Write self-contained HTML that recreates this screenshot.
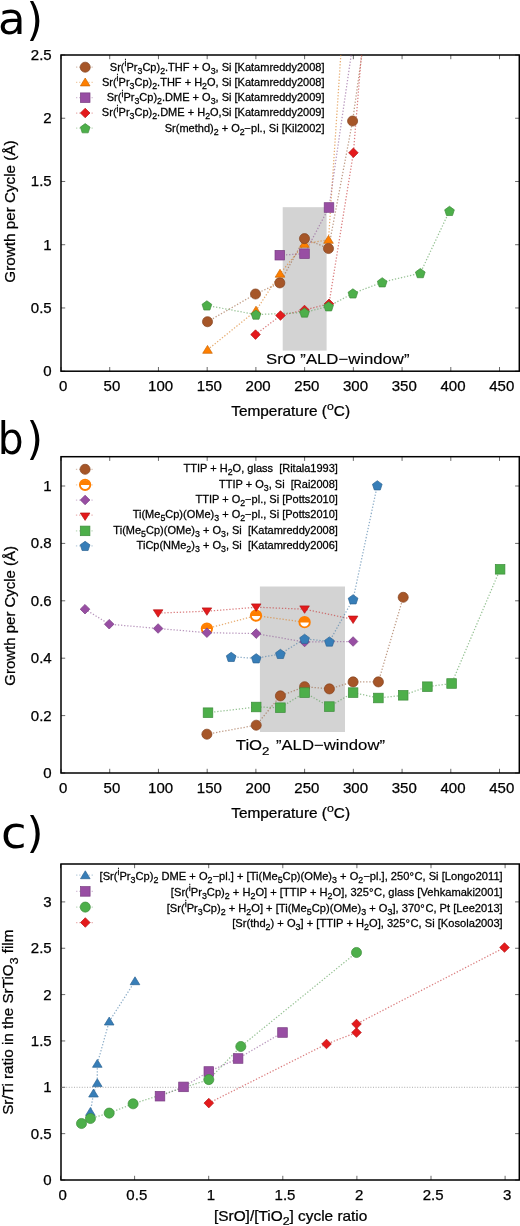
<!DOCTYPE html>
<html lang="en">
<head>
<meta charset="utf-8">
<title>ALD growth per cycle figure</title>
<style>html,body{margin:0;padding:0;background:#fff}svg{display:block}</style>
</head>
<body>
<svg width="520" height="1226" viewBox="0 0 520 1226" font-family='"Liberation Sans", sans-serif' fill="#000">
<rect width="520" height="1226" fill="#fff"/>
<text transform="translate(-1.9 34.35) scale(0.4500 0.4491)" font-family='"DejaVu Sans", sans-serif' font-size="100">a</text>
<text transform="translate(26.62 34.54) scale(0.4227 0.4427)" font-family='"DejaVu Sans", sans-serif' font-size="100">)</text>
<text transform="translate(-2.17 453.96) scale(0.4082 0.4416)" font-family='"DejaVu Sans", sans-serif' font-size="100">b</text>
<text transform="translate(26.62 453.87) scale(0.4227 0.4404)" font-family='"DejaVu Sans", sans-serif' font-size="100">)</text>
<text transform="translate(1.01 848.25) scale(0.4651 0.4491)" font-family='"DejaVu Sans", sans-serif' font-size="100">c</text>
<text transform="translate(26.51 848.22) scale(0.4364 0.4292)" font-family='"DejaVu Sans", sans-serif' font-size="100">)</text>
<rect x="282.7" y="207.2" width="43.9" height="143.4" fill="#d3d3d3"/>
<rect x="61" y="55" width="458.3" height="316.2" fill="none" stroke="#000" stroke-width="1.5"/>
<path d="M61 371.2 v-4.2 M61 55 v4.2" stroke="#000" stroke-width="0.6"/>
<text transform="translate(63.2 391.2) scale(1.09 1)" font-size="13.8" text-anchor="middle" xml:space="preserve" stroke="#000" stroke-width="0.25"><tspan>0</tspan></text>
<path d="M109.72 371.2 v-4.2 M109.72 55 v4.2" stroke="#000" stroke-width="0.6"/>
<text transform="translate(111.92 391.2) scale(1.09 1)" font-size="13.8" text-anchor="middle" xml:space="preserve" stroke="#000" stroke-width="0.25"><tspan>50</tspan></text>
<path d="M158.45 371.2 v-4.2 M158.45 55 v4.2" stroke="#000" stroke-width="0.6"/>
<text transform="translate(160.65 391.2) scale(1.09 1)" font-size="13.8" text-anchor="middle" xml:space="preserve" stroke="#000" stroke-width="0.25"><tspan>100</tspan></text>
<path d="M207.18 371.2 v-4.2 M207.18 55 v4.2" stroke="#000" stroke-width="0.6"/>
<text transform="translate(209.38 391.2) scale(1.09 1)" font-size="13.8" text-anchor="middle" xml:space="preserve" stroke="#000" stroke-width="0.25"><tspan>150</tspan></text>
<path d="M255.9 371.2 v-4.2 M255.9 55 v4.2" stroke="#000" stroke-width="0.6"/>
<text transform="translate(258.1 391.2) scale(1.09 1)" font-size="13.8" text-anchor="middle" xml:space="preserve" stroke="#000" stroke-width="0.25"><tspan>200</tspan></text>
<path d="M304.62 371.2 v-4.2 M304.62 55 v4.2" stroke="#000" stroke-width="0.6"/>
<text transform="translate(306.82 391.2) scale(1.09 1)" font-size="13.8" text-anchor="middle" xml:space="preserve" stroke="#000" stroke-width="0.25"><tspan>250</tspan></text>
<path d="M353.35 371.2 v-4.2 M353.35 55 v4.2" stroke="#000" stroke-width="0.6"/>
<text transform="translate(355.55 391.2) scale(1.09 1)" font-size="13.8" text-anchor="middle" xml:space="preserve" stroke="#000" stroke-width="0.25"><tspan>300</tspan></text>
<path d="M402.07 371.2 v-4.2 M402.07 55 v4.2" stroke="#000" stroke-width="0.6"/>
<text transform="translate(404.27 391.2) scale(1.09 1)" font-size="13.8" text-anchor="middle" xml:space="preserve" stroke="#000" stroke-width="0.25"><tspan>350</tspan></text>
<path d="M450.8 371.2 v-4.2 M450.8 55 v4.2" stroke="#000" stroke-width="0.6"/>
<text transform="translate(453 391.2) scale(1.09 1)" font-size="13.8" text-anchor="middle" xml:space="preserve" stroke="#000" stroke-width="0.25"><tspan>400</tspan></text>
<path d="M499.53 371.2 v-4.2 M499.53 55 v4.2" stroke="#000" stroke-width="0.6"/>
<text transform="translate(501.73 391.2) scale(1.09 1)" font-size="13.8" text-anchor="middle" xml:space="preserve" stroke="#000" stroke-width="0.25"><tspan>450</tspan></text>
<path d="M61 371.2 h4.2 M519.3 371.2 h-4.2" stroke="#000" stroke-width="0.6"/>
<text transform="translate(51.7 376.2) scale(1.09 1)" font-size="13.8" text-anchor="end" xml:space="preserve" stroke="#000" stroke-width="0.25"><tspan>0</tspan></text>
<path d="M61 307.96 h4.2 M519.3 307.96 h-4.2" stroke="#000" stroke-width="0.6"/>
<text transform="translate(51.7 312.96) scale(1.09 1)" font-size="13.8" text-anchor="end" xml:space="preserve" stroke="#000" stroke-width="0.25"><tspan>0.5</tspan></text>
<path d="M61 244.72 h4.2 M519.3 244.72 h-4.2" stroke="#000" stroke-width="0.6"/>
<text transform="translate(51.7 249.72) scale(1.09 1)" font-size="13.8" text-anchor="end" xml:space="preserve" stroke="#000" stroke-width="0.25"><tspan>1</tspan></text>
<path d="M61 181.48 h4.2 M519.3 181.48 h-4.2" stroke="#000" stroke-width="0.6"/>
<text transform="translate(51.7 186.48) scale(1.09 1)" font-size="13.8" text-anchor="end" xml:space="preserve" stroke="#000" stroke-width="0.25"><tspan>1.5</tspan></text>
<path d="M61 118.24 h4.2 M519.3 118.24 h-4.2" stroke="#000" stroke-width="0.6"/>
<text transform="translate(51.7 123.24) scale(1.09 1)" font-size="13.8" text-anchor="end" xml:space="preserve" stroke="#000" stroke-width="0.25"><tspan>2</tspan></text>
<path d="M61 55 h4.2 M519.3 55 h-4.2" stroke="#000" stroke-width="0.6"/>
<text transform="translate(51.7 60) scale(1.09 1)" font-size="13.8" text-anchor="end" xml:space="preserve" stroke="#000" stroke-width="0.25"><tspan>2.5</tspan></text>
<text transform="translate(290.65 415.9) scale(1.1 1)" font-size="14" text-anchor="middle" xml:space="preserve" stroke="#000" stroke-width="0.25"><tspan>Temperature (</tspan><tspan dy="-5.88" font-size="11.2">o</tspan><tspan dy="5.88">C)</tspan></text>
<text transform="translate(14.5 211.5) rotate(-90) scale(1.09 1)" font-size="14" text-anchor="middle" xml:space="preserve" stroke="#000" stroke-width="0.25"><tspan>Growth per Cycle (Å)</tspan></text>
<text transform="translate(266 364.4) scale(1.13 1)" font-size="14.8" text-anchor="start" xml:space="preserve" stroke="#000" stroke-width="0.15"><tspan>SrO ”ALD−window”</tspan></text>
<path d="M207.5 321.7 L255.5 294 L279.8 282.9 L304.5 238.6 L328.5 248.5 L352.6 121 L361.8 55" fill="none" stroke="#9d6545" stroke-width="1.25" stroke-dasharray="1.3 1.8" stroke-opacity="0.66"/>
<path d="M207.5 349.8 L256 310.6 L280 273.7 L304.5 243.8 L328.5 239.8 L340.8 55" fill="none" stroke="#db8229" stroke-width="1.25" stroke-dasharray="1.3 1.8" stroke-opacity="0.66"/>
<path d="M279.8 255.2 L304.5 253.7 L329 207.5 L351.2 55" fill="none" stroke="#935f9b" stroke-width="1.25" stroke-dasharray="1.3 1.8" stroke-opacity="0.66"/>
<path d="M255.5 334.6 L280.5 315.5 L304.5 310 L329 303.8 L353.4 152.8 L361.4 55" fill="none" stroke="#c83b3c" stroke-width="1.25" stroke-dasharray="1.3 1.8" stroke-opacity="0.66"/>
<path d="M206.9 305.4 L256 314.6 L304.5 312.5 L328.6 306.3 L352.9 293.4 L382.2 282.3 L420.3 273.1 L449.5 210.9" fill="none" stroke="#5fa35d" stroke-width="1.25" stroke-dasharray="1.3 1.8" stroke-opacity="0.66"/>
<polygon points="207.5,345.4 212.3,353.3 202.7,353.3" fill="#ff7f00" stroke="#cc6500" stroke-width="0.7" stroke-linejoin="miter"/>
<polygon points="256,306.2 260.8,314.1 251.2,314.1" fill="#ff7f00" stroke="#cc6500" stroke-width="0.7" stroke-linejoin="miter"/>
<polygon points="280,269.3 284.8,277.2 275.2,277.2" fill="#ff7f00" stroke="#cc6500" stroke-width="0.7" stroke-linejoin="miter"/>
<polygon points="304.5,239.4 309.3,247.3 299.7,247.3" fill="#ff7f00" stroke="#cc6500" stroke-width="0.7" stroke-linejoin="miter"/>
<polygon points="328.5,235.4 333.3,243.3 323.7,243.3" fill="#ff7f00" stroke="#cc6500" stroke-width="0.7" stroke-linejoin="miter"/>
<circle cx="207.5" cy="321.7" r="5.05" fill="#a65628" stroke="#844420" stroke-width="0.7" stroke-linejoin="miter"/>
<circle cx="255.5" cy="294" r="5.05" fill="#a65628" stroke="#844420" stroke-width="0.7" stroke-linejoin="miter"/>
<circle cx="279.8" cy="282.9" r="5.05" fill="#a65628" stroke="#844420" stroke-width="0.7" stroke-linejoin="miter"/>
<circle cx="304.5" cy="238.6" r="5.05" fill="#a65628" stroke="#844420" stroke-width="0.7" stroke-linejoin="miter"/>
<circle cx="328.5" cy="248.5" r="5.05" fill="#a65628" stroke="#844420" stroke-width="0.7" stroke-linejoin="miter"/>
<circle cx="352.6" cy="121" r="5.05" fill="#a65628" stroke="#844420" stroke-width="0.7" stroke-linejoin="miter"/>
<rect x="275" y="250.4" width="9.6" height="9.6" fill="#984ea3" stroke="#793e82" stroke-width="0.7" stroke-linejoin="miter"/>
<rect x="299.7" y="248.9" width="9.6" height="9.6" fill="#984ea3" stroke="#793e82" stroke-width="0.7" stroke-linejoin="miter"/>
<rect x="324.2" y="202.7" width="9.6" height="9.6" fill="#984ea3" stroke="#793e82" stroke-width="0.7" stroke-linejoin="miter"/>
<polygon points="255.5,329.8 260.3,334.6 255.5,339.4 250.7,334.6" fill="#e41a1c" stroke="#b61416" stroke-width="0.7" stroke-linejoin="miter"/>
<polygon points="280.5,310.7 285.3,315.5 280.5,320.3 275.7,315.5" fill="#e41a1c" stroke="#b61416" stroke-width="0.7" stroke-linejoin="miter"/>
<polygon points="304.5,305.2 309.3,310 304.5,314.8 299.7,310" fill="#e41a1c" stroke="#b61416" stroke-width="0.7" stroke-linejoin="miter"/>
<polygon points="329,299 333.8,303.8 329,308.6 324.2,303.8" fill="#e41a1c" stroke="#b61416" stroke-width="0.7" stroke-linejoin="miter"/>
<polygon points="353.4,148 358.2,152.8 353.4,157.6 348.6,152.8" fill="#e41a1c" stroke="#b61416" stroke-width="0.7" stroke-linejoin="miter"/>
<polygon points="206.9,300.8 211.75,304.32 209.9,310.03 203.9,310.03 202.05,304.32" fill="#4daf4a" stroke="#3d8c3b" stroke-width="0.7" stroke-linejoin="miter"/>
<polygon points="256,310 260.85,313.52 259,319.23 253,319.23 251.15,313.52" fill="#4daf4a" stroke="#3d8c3b" stroke-width="0.7" stroke-linejoin="miter"/>
<polygon points="304.5,307.9 309.35,311.42 307.5,317.13 301.5,317.13 299.65,311.42" fill="#4daf4a" stroke="#3d8c3b" stroke-width="0.7" stroke-linejoin="miter"/>
<polygon points="328.6,301.7 333.45,305.22 331.6,310.93 325.6,310.93 323.75,305.22" fill="#4daf4a" stroke="#3d8c3b" stroke-width="0.7" stroke-linejoin="miter"/>
<polygon points="352.9,288.8 357.75,292.32 355.9,298.03 349.9,298.03 348.05,292.32" fill="#4daf4a" stroke="#3d8c3b" stroke-width="0.7" stroke-linejoin="miter"/>
<polygon points="382.2,277.7 387.05,281.22 385.2,286.93 379.2,286.93 377.35,281.22" fill="#4daf4a" stroke="#3d8c3b" stroke-width="0.7" stroke-linejoin="miter"/>
<polygon points="420.3,268.5 425.15,272.02 423.3,277.73 417.3,277.73 415.45,272.02" fill="#4daf4a" stroke="#3d8c3b" stroke-width="0.7" stroke-linejoin="miter"/>
<polygon points="449.5,206.3 454.35,209.82 452.5,215.53 446.5,215.53 444.65,209.82" fill="#4daf4a" stroke="#3d8c3b" stroke-width="0.7" stroke-linejoin="miter"/>
<path d="M76 67.2 L94.4 67.2" fill="none" stroke="#9d6545" stroke-width="1.25" stroke-dasharray="1.3 1.8" stroke-opacity="0.4"/>
<circle cx="85.2" cy="67.2" r="5.05" fill="#a65628" stroke="#844420" stroke-width="0.7" stroke-linejoin="miter"/>
<text transform="translate(324.5 70.6) scale(1.07 1)" font-size="10.3" text-anchor="end" xml:space="preserve" stroke="#000" stroke-width="0.25"><tspan>Sr(</tspan><tspan dy="-4.33" font-size="8.24">i</tspan><tspan dy="4.33">Pr</tspan><tspan dy="3.09" font-size="8.24">3</tspan><tspan dy="-3.09">Cp)</tspan><tspan dy="3.09" font-size="8.24">2</tspan><tspan dy="-3.09">.THF + O</tspan><tspan dy="3.09" font-size="8.24">3</tspan><tspan dy="-3.09">, Si [Katamreddy2008]</tspan></text>
<path d="M76 82.4 L94.4 82.4" fill="none" stroke="#db8229" stroke-width="1.25" stroke-dasharray="1.3 1.8" stroke-opacity="0.4"/>
<polygon points="85.2,78 90,85.9 80.4,85.9" fill="#ff7f00" stroke="#cc6500" stroke-width="0.7" stroke-linejoin="miter"/>
<text transform="translate(324.5 85.8) scale(1.07 1)" font-size="10.3" text-anchor="end" xml:space="preserve" stroke="#000" stroke-width="0.25"><tspan>Sr(</tspan><tspan dy="-4.33" font-size="8.24">i</tspan><tspan dy="4.33">Pr</tspan><tspan dy="3.09" font-size="8.24">3</tspan><tspan dy="-3.09">Cp)</tspan><tspan dy="3.09" font-size="8.24">2</tspan><tspan dy="-3.09">.THF + H</tspan><tspan dy="3.09" font-size="8.24">2</tspan><tspan dy="-3.09">O, Si [Katamreddy2008]</tspan></text>
<path d="M76 97.7 L94.4 97.7" fill="none" stroke="#935f9b" stroke-width="1.25" stroke-dasharray="1.3 1.8" stroke-opacity="0.4"/>
<rect x="80.4" y="92.9" width="9.6" height="9.6" fill="#984ea3" stroke="#793e82" stroke-width="0.7" stroke-linejoin="miter"/>
<text transform="translate(324.5 101.1) scale(1.07 1)" font-size="10.3" text-anchor="end" xml:space="preserve" stroke="#000" stroke-width="0.25"><tspan>Sr(</tspan><tspan dy="-4.33" font-size="8.24">i</tspan><tspan dy="4.33">Pr</tspan><tspan dy="3.09" font-size="8.24">3</tspan><tspan dy="-3.09">Cp)</tspan><tspan dy="3.09" font-size="8.24">2</tspan><tspan dy="-3.09">.DME + O</tspan><tspan dy="3.09" font-size="8.24">3</tspan><tspan dy="-3.09">, Si [Katamreddy2009]</tspan></text>
<path d="M76 113 L94.4 113" fill="none" stroke="#c83b3c" stroke-width="1.25" stroke-dasharray="1.3 1.8" stroke-opacity="0.4"/>
<polygon points="85.2,108.2 90,113 85.2,117.8 80.4,113" fill="#e41a1c" stroke="#b61416" stroke-width="0.7" stroke-linejoin="miter"/>
<text transform="translate(324.5 116.4) scale(1.07 1)" font-size="10.3" text-anchor="end" xml:space="preserve" stroke="#000" stroke-width="0.25"><tspan>Sr(</tspan><tspan dy="-4.33" font-size="8.24">i</tspan><tspan dy="4.33">Pr</tspan><tspan dy="3.09" font-size="8.24">3</tspan><tspan dy="-3.09">Cp)</tspan><tspan dy="3.09" font-size="8.24">2</tspan><tspan dy="-3.09">.DME + H</tspan><tspan dy="3.09" font-size="8.24">2</tspan><tspan dy="-3.09">O,Si [Katamreddy2009]</tspan></text>
<path d="M76 128.2 L94.4 128.2" fill="none" stroke="#5fa35d" stroke-width="1.25" stroke-dasharray="1.3 1.8" stroke-opacity="0.4"/>
<polygon points="85.2,123.6 90.05,127.12 88.2,132.83 82.2,132.83 80.35,127.12" fill="#4daf4a" stroke="#3d8c3b" stroke-width="0.7" stroke-linejoin="miter"/>
<text transform="translate(324.5 131.6) scale(1.07 1)" font-size="10.3" text-anchor="end" xml:space="preserve" stroke="#000" stroke-width="0.25"><tspan>Sr(methd)</tspan><tspan dy="3.09" font-size="8.24">2</tspan><tspan dy="-3.09"> + O</tspan><tspan dy="3.09" font-size="8.24">2</tspan><tspan dy="-3.09">−pl., Si [Kil2002]</tspan></text>
<rect x="259.9" y="586.5" width="85.1" height="145.5" fill="#d3d3d3"/>
<rect x="61" y="456.7" width="458.3" height="316.3" fill="none" stroke="#000" stroke-width="1.5"/>
<path d="M61 773 v-4.2 M61 456.7 v4.2" stroke="#000" stroke-width="0.6"/>
<text transform="translate(63.2 793) scale(1.09 1)" font-size="13.8" text-anchor="middle" xml:space="preserve" stroke="#000" stroke-width="0.25"><tspan>0</tspan></text>
<path d="M109.72 773 v-4.2 M109.72 456.7 v4.2" stroke="#000" stroke-width="0.6"/>
<text transform="translate(111.92 793) scale(1.09 1)" font-size="13.8" text-anchor="middle" xml:space="preserve" stroke="#000" stroke-width="0.25"><tspan>50</tspan></text>
<path d="M158.45 773 v-4.2 M158.45 456.7 v4.2" stroke="#000" stroke-width="0.6"/>
<text transform="translate(160.65 793) scale(1.09 1)" font-size="13.8" text-anchor="middle" xml:space="preserve" stroke="#000" stroke-width="0.25"><tspan>100</tspan></text>
<path d="M207.18 773 v-4.2 M207.18 456.7 v4.2" stroke="#000" stroke-width="0.6"/>
<text transform="translate(209.38 793) scale(1.09 1)" font-size="13.8" text-anchor="middle" xml:space="preserve" stroke="#000" stroke-width="0.25"><tspan>150</tspan></text>
<path d="M255.9 773 v-4.2 M255.9 456.7 v4.2" stroke="#000" stroke-width="0.6"/>
<text transform="translate(258.1 793) scale(1.09 1)" font-size="13.8" text-anchor="middle" xml:space="preserve" stroke="#000" stroke-width="0.25"><tspan>200</tspan></text>
<path d="M304.62 773 v-4.2 M304.62 456.7 v4.2" stroke="#000" stroke-width="0.6"/>
<text transform="translate(306.82 793) scale(1.09 1)" font-size="13.8" text-anchor="middle" xml:space="preserve" stroke="#000" stroke-width="0.25"><tspan>250</tspan></text>
<path d="M353.35 773 v-4.2 M353.35 456.7 v4.2" stroke="#000" stroke-width="0.6"/>
<text transform="translate(355.55 793) scale(1.09 1)" font-size="13.8" text-anchor="middle" xml:space="preserve" stroke="#000" stroke-width="0.25"><tspan>300</tspan></text>
<path d="M402.07 773 v-4.2 M402.07 456.7 v4.2" stroke="#000" stroke-width="0.6"/>
<text transform="translate(404.27 793) scale(1.09 1)" font-size="13.8" text-anchor="middle" xml:space="preserve" stroke="#000" stroke-width="0.25"><tspan>350</tspan></text>
<path d="M450.8 773 v-4.2 M450.8 456.7 v4.2" stroke="#000" stroke-width="0.6"/>
<text transform="translate(453 793) scale(1.09 1)" font-size="13.8" text-anchor="middle" xml:space="preserve" stroke="#000" stroke-width="0.25"><tspan>400</tspan></text>
<path d="M499.53 773 v-4.2 M499.53 456.7 v4.2" stroke="#000" stroke-width="0.6"/>
<text transform="translate(501.73 793) scale(1.09 1)" font-size="13.8" text-anchor="middle" xml:space="preserve" stroke="#000" stroke-width="0.25"><tspan>450</tspan></text>
<path d="M61 773 h4.2 M519.3 773 h-4.2" stroke="#000" stroke-width="0.6"/>
<text transform="translate(51.7 778) scale(1.09 1)" font-size="13.8" text-anchor="end" xml:space="preserve" stroke="#000" stroke-width="0.25"><tspan>0</tspan></text>
<path d="M61 715.6 h4.2 M519.3 715.6 h-4.2" stroke="#000" stroke-width="0.6"/>
<text transform="translate(51.7 720.6) scale(1.09 1)" font-size="13.8" text-anchor="end" xml:space="preserve" stroke="#000" stroke-width="0.25"><tspan>0.2</tspan></text>
<path d="M61 658.2 h4.2 M519.3 658.2 h-4.2" stroke="#000" stroke-width="0.6"/>
<text transform="translate(51.7 663.2) scale(1.09 1)" font-size="13.8" text-anchor="end" xml:space="preserve" stroke="#000" stroke-width="0.25"><tspan>0.4</tspan></text>
<path d="M61 600.8 h4.2 M519.3 600.8 h-4.2" stroke="#000" stroke-width="0.6"/>
<text transform="translate(51.7 605.8) scale(1.09 1)" font-size="13.8" text-anchor="end" xml:space="preserve" stroke="#000" stroke-width="0.25"><tspan>0.6</tspan></text>
<path d="M61 543.4 h4.2 M519.3 543.4 h-4.2" stroke="#000" stroke-width="0.6"/>
<text transform="translate(51.7 548.4) scale(1.09 1)" font-size="13.8" text-anchor="end" xml:space="preserve" stroke="#000" stroke-width="0.25"><tspan>0.8</tspan></text>
<path d="M61 486 h4.2 M519.3 486 h-4.2" stroke="#000" stroke-width="0.6"/>
<text transform="translate(51.7 491) scale(1.09 1)" font-size="13.8" text-anchor="end" xml:space="preserve" stroke="#000" stroke-width="0.25"><tspan>1</tspan></text>
<text transform="translate(290.65 817.7) scale(1.1 1)" font-size="14" text-anchor="middle" xml:space="preserve" stroke="#000" stroke-width="0.25"><tspan>Temperature (</tspan><tspan dy="-5.88" font-size="11.2">o</tspan><tspan dy="5.88">C)</tspan></text>
<text transform="translate(14.5 615.8) rotate(-90) scale(1.07 1)" font-size="14" text-anchor="middle" xml:space="preserve" stroke="#000" stroke-width="0.25"><tspan>Growth per Cycle (Å)</tspan></text>
<text transform="translate(235.8 750.3) scale(1.13 1)" font-size="14.8" text-anchor="start" xml:space="preserve" stroke="#000" stroke-width="0.15"><tspan>TiO</tspan><tspan dy="4.44" font-size="11.84">2</tspan><tspan dx="1.5" dy="-4.44"> ”ALD−window”</tspan></text>
<path d="M206.9 734.2 L256.2 725.2 L280.4 695.9 L304.6 686.7 L329.4 688.9 L353.1 681.9 L378.4 681.9 L403.2 597.3" fill="none" stroke="#9d6545" stroke-width="1.25" stroke-dasharray="1.3 1.8" stroke-opacity="0.66"/>
<path d="M206.9 628.6 L256 615.6 L304.6 622.2" fill="none" stroke="#db8229" stroke-width="1.25" stroke-dasharray="1.3 1.8" stroke-opacity="0.66"/>
<path d="M85 609.2 L109.2 624.2 L158.1 628.5 L206.9 632.7 L256.2 633.6 L304.6 642 L353.1 641.5" fill="none" stroke="#935f9b" stroke-width="1.25" stroke-dasharray="1.3 1.8" stroke-opacity="0.66"/>
<path d="M158.1 613.1 L206.9 611.2 L256.2 607.2 L304.6 609.2 L353.1 619.4" fill="none" stroke="#c83b3c" stroke-width="1.25" stroke-dasharray="1.3 1.8" stroke-opacity="0.66"/>
<path d="M208 712.7 L256.2 707 L280.4 707.7 L304.6 692.6 L329.4 706.6 L353.1 692.6 L378.4 698 L403.2 695.3 L427.4 686.7 L451.6 683.5 L500.1 569.3" fill="none" stroke="#5fa35d" stroke-width="1.25" stroke-dasharray="1.3 1.8" stroke-opacity="0.66"/>
<path d="M231.2 656.9 L256.2 658.3 L280.4 653.9 L304.6 638.8 L329.4 641.5 L353.1 599.3 L377.3 485.3" fill="none" stroke="#4f81aa" stroke-width="1.25" stroke-dasharray="1.3 1.8" stroke-opacity="0.66"/>
<circle cx="206.9" cy="734.2" r="5.05" fill="#a65628" stroke="#844420" stroke-width="0.7" stroke-linejoin="miter"/>
<circle cx="256.2" cy="725.2" r="5.05" fill="#a65628" stroke="#844420" stroke-width="0.7" stroke-linejoin="miter"/>
<circle cx="280.4" cy="695.9" r="5.05" fill="#a65628" stroke="#844420" stroke-width="0.7" stroke-linejoin="miter"/>
<circle cx="304.6" cy="686.7" r="5.05" fill="#a65628" stroke="#844420" stroke-width="0.7" stroke-linejoin="miter"/>
<circle cx="329.4" cy="688.9" r="5.05" fill="#a65628" stroke="#844420" stroke-width="0.7" stroke-linejoin="miter"/>
<circle cx="353.1" cy="681.9" r="5.05" fill="#a65628" stroke="#844420" stroke-width="0.7" stroke-linejoin="miter"/>
<circle cx="378.4" cy="681.9" r="5.05" fill="#a65628" stroke="#844420" stroke-width="0.7" stroke-linejoin="miter"/>
<circle cx="403.2" cy="597.3" r="5.05" fill="#a65628" stroke="#844420" stroke-width="0.7" stroke-linejoin="miter"/>
<circle cx="206.9" cy="628.6" r="5.2" fill="#fff" stroke="#ff7f00" stroke-width="1.9"/><path d="M201.7 628.9 A5.2 5.2 0 0 1 212.1 628.9 Z" fill="#ff7f00"/>
<circle cx="256" cy="615.6" r="5.2" fill="#fff" stroke="#ff7f00" stroke-width="1.9"/><path d="M250.8 615.9 A5.2 5.2 0 0 1 261.2 615.9 Z" fill="#ff7f00"/>
<circle cx="304.6" cy="622.2" r="5.2" fill="#fff" stroke="#ff7f00" stroke-width="1.9"/><path d="M299.4 622.5 A5.2 5.2 0 0 1 309.8 622.5 Z" fill="#ff7f00"/>
<polygon points="85,604.4 89.8,609.2 85,614 80.2,609.2" fill="#984ea3" stroke="#793e82" stroke-width="0.7" stroke-linejoin="miter"/>
<polygon points="109.2,619.4 114,624.2 109.2,629 104.4,624.2" fill="#984ea3" stroke="#793e82" stroke-width="0.7" stroke-linejoin="miter"/>
<polygon points="158.1,623.7 162.9,628.5 158.1,633.3 153.3,628.5" fill="#984ea3" stroke="#793e82" stroke-width="0.7" stroke-linejoin="miter"/>
<polygon points="206.9,627.9 211.7,632.7 206.9,637.5 202.1,632.7" fill="#984ea3" stroke="#793e82" stroke-width="0.7" stroke-linejoin="miter"/>
<polygon points="256.2,628.8 261,633.6 256.2,638.4 251.4,633.6" fill="#984ea3" stroke="#793e82" stroke-width="0.7" stroke-linejoin="miter"/>
<polygon points="304.6,637.2 309.4,642 304.6,646.8 299.8,642" fill="#984ea3" stroke="#793e82" stroke-width="0.7" stroke-linejoin="miter"/>
<polygon points="353.1,636.7 357.9,641.5 353.1,646.3 348.3,641.5" fill="#984ea3" stroke="#793e82" stroke-width="0.7" stroke-linejoin="miter"/>
<polygon points="158.1,617.2 162.9,609.8 153.3,609.8" fill="#e41a1c" stroke="#b61416" stroke-width="0.7" stroke-linejoin="miter"/>
<polygon points="206.9,615.3 211.7,607.9 202.1,607.9" fill="#e41a1c" stroke="#b61416" stroke-width="0.7" stroke-linejoin="miter"/>
<polygon points="256.2,611.3 261,603.9 251.4,603.9" fill="#e41a1c" stroke="#b61416" stroke-width="0.7" stroke-linejoin="miter"/>
<polygon points="304.6,613.3 309.4,605.9 299.8,605.9" fill="#e41a1c" stroke="#b61416" stroke-width="0.7" stroke-linejoin="miter"/>
<polygon points="353.1,623.5 357.9,616.1 348.3,616.1" fill="#e41a1c" stroke="#b61416" stroke-width="0.7" stroke-linejoin="miter"/>
<rect x="203.2" y="707.9" width="9.6" height="9.6" fill="#4daf4a" stroke="#3d8c3b" stroke-width="0.7" stroke-linejoin="miter"/>
<rect x="251.4" y="702.2" width="9.6" height="9.6" fill="#4daf4a" stroke="#3d8c3b" stroke-width="0.7" stroke-linejoin="miter"/>
<rect x="275.6" y="702.9" width="9.6" height="9.6" fill="#4daf4a" stroke="#3d8c3b" stroke-width="0.7" stroke-linejoin="miter"/>
<rect x="299.8" y="687.8" width="9.6" height="9.6" fill="#4daf4a" stroke="#3d8c3b" stroke-width="0.7" stroke-linejoin="miter"/>
<rect x="324.6" y="701.8" width="9.6" height="9.6" fill="#4daf4a" stroke="#3d8c3b" stroke-width="0.7" stroke-linejoin="miter"/>
<rect x="348.3" y="687.8" width="9.6" height="9.6" fill="#4daf4a" stroke="#3d8c3b" stroke-width="0.7" stroke-linejoin="miter"/>
<rect x="373.6" y="693.2" width="9.6" height="9.6" fill="#4daf4a" stroke="#3d8c3b" stroke-width="0.7" stroke-linejoin="miter"/>
<rect x="398.4" y="690.5" width="9.6" height="9.6" fill="#4daf4a" stroke="#3d8c3b" stroke-width="0.7" stroke-linejoin="miter"/>
<rect x="422.6" y="681.9" width="9.6" height="9.6" fill="#4daf4a" stroke="#3d8c3b" stroke-width="0.7" stroke-linejoin="miter"/>
<rect x="446.8" y="678.7" width="9.6" height="9.6" fill="#4daf4a" stroke="#3d8c3b" stroke-width="0.7" stroke-linejoin="miter"/>
<rect x="495.3" y="564.5" width="9.6" height="9.6" fill="#4daf4a" stroke="#3d8c3b" stroke-width="0.7" stroke-linejoin="miter"/>
<polygon points="231.2,652.3 236.05,655.82 234.2,661.53 228.2,661.53 226.35,655.82" fill="#377eb8" stroke="#2c6493" stroke-width="0.7" stroke-linejoin="miter"/>
<polygon points="256.2,653.7 261.05,657.22 259.2,662.93 253.2,662.93 251.35,657.22" fill="#377eb8" stroke="#2c6493" stroke-width="0.7" stroke-linejoin="miter"/>
<polygon points="280.4,649.3 285.25,652.82 283.4,658.53 277.4,658.53 275.55,652.82" fill="#377eb8" stroke="#2c6493" stroke-width="0.7" stroke-linejoin="miter"/>
<polygon points="304.6,634.2 309.45,637.72 307.6,643.43 301.6,643.43 299.75,637.72" fill="#377eb8" stroke="#2c6493" stroke-width="0.7" stroke-linejoin="miter"/>
<polygon points="329.4,636.9 334.25,640.42 332.4,646.13 326.4,646.13 324.55,640.42" fill="#377eb8" stroke="#2c6493" stroke-width="0.7" stroke-linejoin="miter"/>
<polygon points="353.1,594.7 357.95,598.22 356.1,603.93 350.1,603.93 348.25,598.22" fill="#377eb8" stroke="#2c6493" stroke-width="0.7" stroke-linejoin="miter"/>
<polygon points="377.3,480.7 382.15,484.22 380.3,489.93 374.3,489.93 372.45,484.22" fill="#377eb8" stroke="#2c6493" stroke-width="0.7" stroke-linejoin="miter"/>
<path d="M75.9 469.3 L94.3 469.3" fill="none" stroke="#9d6545" stroke-width="1.25" stroke-dasharray="1.3 1.8" stroke-opacity="0.4"/>
<circle cx="85.1" cy="469.3" r="5.05" fill="#a65628" stroke="#844420" stroke-width="0.7" stroke-linejoin="miter"/>
<text transform="translate(337.9 472.3) scale(1.07 1)" font-size="10.3" text-anchor="end" xml:space="preserve" stroke="#000" stroke-width="0.25"><tspan>TTIP + H</tspan><tspan dy="3.09" font-size="8.24">2</tspan><tspan dy="-3.09">O, glass  [Ritala1993]</tspan></text>
<path d="M75.9 484.8 L94.3 484.8" fill="none" stroke="#db8229" stroke-width="1.25" stroke-dasharray="1.3 1.8" stroke-opacity="0.4"/>
<circle cx="85.1" cy="484.8" r="5.2" fill="#fff" stroke="#ff7f00" stroke-width="1.9"/><path d="M79.9 485.1 A5.2 5.2 0 0 1 90.3 485.1 Z" fill="#ff7f00"/>
<text transform="translate(337.9 487.8) scale(1.07 1)" font-size="10.3" text-anchor="end" xml:space="preserve" stroke="#000" stroke-width="0.25"><tspan>TTIP + O</tspan><tspan dy="3.09" font-size="8.24">3</tspan><tspan dy="-3.09">, Si  [Rai2008]</tspan></text>
<path d="M75.9 500 L94.3 500" fill="none" stroke="#935f9b" stroke-width="1.25" stroke-dasharray="1.3 1.8" stroke-opacity="0.4"/>
<polygon points="85.1,495.2 89.9,500 85.1,504.8 80.3,500" fill="#984ea3" stroke="#793e82" stroke-width="0.7" stroke-linejoin="miter"/>
<text transform="translate(337.9 503) scale(1.07 1)" font-size="10.3" text-anchor="end" xml:space="preserve" stroke="#000" stroke-width="0.25"><tspan>TTIP + O</tspan><tspan dy="3.09" font-size="8.24">2</tspan><tspan dy="-3.09">−pl., Si [Potts2010]</tspan></text>
<path d="M75.9 515.2 L94.3 515.2" fill="none" stroke="#c83b3c" stroke-width="1.25" stroke-dasharray="1.3 1.8" stroke-opacity="0.4"/>
<polygon points="85.1,520.4 89.9,513 80.3,513" fill="#e41a1c" stroke="#b61416" stroke-width="0.7" stroke-linejoin="miter"/>
<text transform="translate(337.9 518.2) scale(1.07 1)" font-size="10.3" text-anchor="end" xml:space="preserve" stroke="#000" stroke-width="0.25"><tspan>Ti(Me</tspan><tspan dy="3.09" font-size="8.24">5</tspan><tspan dy="-3.09">Cp)(OMe)</tspan><tspan dy="3.09" font-size="8.24">3</tspan><tspan dy="-3.09"> + O</tspan><tspan dy="3.09" font-size="8.24">2</tspan><tspan dy="-3.09">−pl., Si [Potts2010]</tspan></text>
<path d="M75.9 530.9 L94.3 530.9" fill="none" stroke="#5fa35d" stroke-width="1.25" stroke-dasharray="1.3 1.8" stroke-opacity="0.4"/>
<rect x="80.3" y="526.1" width="9.6" height="9.6" fill="#4daf4a" stroke="#3d8c3b" stroke-width="0.7" stroke-linejoin="miter"/>
<text transform="translate(337.9 533.9) scale(1.07 1)" font-size="10.3" text-anchor="end" xml:space="preserve" stroke="#000" stroke-width="0.25"><tspan>Ti(Me</tspan><tspan dy="3.09" font-size="8.24">5</tspan><tspan dy="-3.09">Cp)(OMe)</tspan><tspan dy="3.09" font-size="8.24">3</tspan><tspan dy="-3.09"> + O</tspan><tspan dy="3.09" font-size="8.24">3</tspan><tspan dy="-3.09">, Si  [Katamreddy2008]</tspan></text>
<path d="M75.9 545.9 L94.3 545.9" fill="none" stroke="#4f81aa" stroke-width="1.25" stroke-dasharray="1.3 1.8" stroke-opacity="0.4"/>
<polygon points="85.1,541.3 89.95,544.82 88.1,550.53 82.1,550.53 80.25,544.82" fill="#377eb8" stroke="#2c6493" stroke-width="0.7" stroke-linejoin="miter"/>
<text transform="translate(337.9 548.9) scale(1.07 1)" font-size="10.3" text-anchor="end" xml:space="preserve" stroke="#000" stroke-width="0.25"><tspan>TiCp(NMe</tspan><tspan dy="3.09" font-size="8.24">2</tspan><tspan dy="-3.09">)</tspan><tspan dy="3.09" font-size="8.24">3</tspan><tspan dy="-3.09"> + O</tspan><tspan dy="3.09" font-size="8.24">3</tspan><tspan dy="-3.09">, Si  [Katamreddy2006]</tspan></text>
<rect x="61" y="864" width="458.3" height="316" fill="none" stroke="#000" stroke-width="1.5"/>
<path d="M60.5 1180 v-4.2 M60.5 864 v4.2" stroke="#000" stroke-width="0.6"/>
<text transform="translate(62.7 1200) scale(1.09 1)" font-size="13.8" text-anchor="middle" xml:space="preserve" stroke="#000" stroke-width="0.25"><tspan>0</tspan></text>
<path d="M134.6 1180 v-4.2 M134.6 864 v4.2" stroke="#000" stroke-width="0.6"/>
<text transform="translate(136.8 1200) scale(1.09 1)" font-size="13.8" text-anchor="middle" xml:space="preserve" stroke="#000" stroke-width="0.25"><tspan>0.5</tspan></text>
<path d="M208.7 1180 v-4.2 M208.7 864 v4.2" stroke="#000" stroke-width="0.6"/>
<text transform="translate(210.9 1200) scale(1.09 1)" font-size="13.8" text-anchor="middle" xml:space="preserve" stroke="#000" stroke-width="0.25"><tspan>1</tspan></text>
<path d="M282.8 1180 v-4.2 M282.8 864 v4.2" stroke="#000" stroke-width="0.6"/>
<text transform="translate(285 1200) scale(1.09 1)" font-size="13.8" text-anchor="middle" xml:space="preserve" stroke="#000" stroke-width="0.25"><tspan>1.5</tspan></text>
<path d="M356.9 1180 v-4.2 M356.9 864 v4.2" stroke="#000" stroke-width="0.6"/>
<text transform="translate(359.1 1200) scale(1.09 1)" font-size="13.8" text-anchor="middle" xml:space="preserve" stroke="#000" stroke-width="0.25"><tspan>2</tspan></text>
<path d="M431 1180 v-4.2 M431 864 v4.2" stroke="#000" stroke-width="0.6"/>
<text transform="translate(433.2 1200) scale(1.09 1)" font-size="13.8" text-anchor="middle" xml:space="preserve" stroke="#000" stroke-width="0.25"><tspan>2.5</tspan></text>
<path d="M505.1 1180 v-4.2 M505.1 864 v4.2" stroke="#000" stroke-width="0.6"/>
<text transform="translate(507.3 1200) scale(1.09 1)" font-size="13.8" text-anchor="middle" xml:space="preserve" stroke="#000" stroke-width="0.25"><tspan>3</tspan></text>
<path d="M61 1180 h4.2 M519.3 1180 h-4.2" stroke="#000" stroke-width="0.6"/>
<text transform="translate(51.7 1185) scale(1.09 1)" font-size="13.8" text-anchor="end" xml:space="preserve" stroke="#000" stroke-width="0.25"><tspan>0</tspan></text>
<path d="M61 1133.65 h4.2 M519.3 1133.65 h-4.2" stroke="#000" stroke-width="0.6"/>
<text transform="translate(51.7 1138.65) scale(1.09 1)" font-size="13.8" text-anchor="end" xml:space="preserve" stroke="#000" stroke-width="0.25"><tspan>0.5</tspan></text>
<path d="M61 1087.3 h4.2 M519.3 1087.3 h-4.2" stroke="#000" stroke-width="0.6"/>
<text transform="translate(51.7 1092.3) scale(1.09 1)" font-size="13.8" text-anchor="end" xml:space="preserve" stroke="#000" stroke-width="0.25"><tspan>1</tspan></text>
<path d="M61 1040.95 h4.2 M519.3 1040.95 h-4.2" stroke="#000" stroke-width="0.6"/>
<text transform="translate(51.7 1045.95) scale(1.09 1)" font-size="13.8" text-anchor="end" xml:space="preserve" stroke="#000" stroke-width="0.25"><tspan>1.5</tspan></text>
<path d="M61 994.6 h4.2 M519.3 994.6 h-4.2" stroke="#000" stroke-width="0.6"/>
<text transform="translate(51.7 999.6) scale(1.09 1)" font-size="13.8" text-anchor="end" xml:space="preserve" stroke="#000" stroke-width="0.25"><tspan>2</tspan></text>
<path d="M61 948.25 h4.2 M519.3 948.25 h-4.2" stroke="#000" stroke-width="0.6"/>
<text transform="translate(51.7 953.25) scale(1.09 1)" font-size="13.8" text-anchor="end" xml:space="preserve" stroke="#000" stroke-width="0.25"><tspan>2.5</tspan></text>
<path d="M61 901.9 h4.2 M519.3 901.9 h-4.2" stroke="#000" stroke-width="0.6"/>
<text transform="translate(51.7 906.9) scale(1.09 1)" font-size="13.8" text-anchor="end" xml:space="preserve" stroke="#000" stroke-width="0.25"><tspan>3</tspan></text>
<text transform="translate(290.65 1220.5) scale(1.1 1)" font-size="14" text-anchor="middle" xml:space="preserve" stroke="#000" stroke-width="0.25"><tspan>[SrO]/[TiO</tspan><tspan dy="4.2" font-size="11.2">2</tspan><tspan dy="-4.2">] cycle ratio</tspan></text>
<text transform="translate(13.4 1022.2) rotate(-90) scale(1.09 1)" font-size="14" text-anchor="middle" xml:space="preserve" stroke="#000" stroke-width="0.25"><tspan>Sr/Ti ratio in the SrTiO</tspan><tspan dy="4.2" font-size="11.2">3</tspan><tspan dy="-4.2"> film</tspan></text>
<path d="M61 1087.3 H519.3" stroke="#888" stroke-width="0.7" stroke-dasharray="1 1.6" fill="none"/>
<path d="M90.4 1111.9 L93.5 1093.5 L97.3 1083.1 L97.3 1063.8 L109.2 1021.5 L135 981.2" fill="none" stroke="#4f81aa" stroke-width="1.25" stroke-dasharray="1.3 1.8" stroke-opacity="0.66"/>
<path d="M160 1096.2 L183.5 1086.9 L208.8 1071.5 L238.1 1058.5 L282.5 1032.5" fill="none" stroke="#935f9b" stroke-width="1.25" stroke-dasharray="1.3 1.8" stroke-opacity="0.66"/>
<path d="M81.5 1123.5 L90.4 1118.5 L109.2 1113.1 L133.1 1103.8 L208.8 1079.6 L240.8 1046.5 L356.5 952.5" fill="none" stroke="#5fa35d" stroke-width="1.25" stroke-dasharray="1.3 1.8" stroke-opacity="0.66"/>
<path d="M208.8 1103.1 L326.5 1044 L356.5 1032.5 L356.5 1024 L504.5 947.5" fill="none" stroke="#c83b3c" stroke-width="1.25" stroke-dasharray="1.3 1.8" stroke-opacity="0.66"/>
<polygon points="90.4,1107.5 95.2,1115.4 85.6,1115.4" fill="#377eb8" stroke="#2c6493" stroke-width="0.7" stroke-linejoin="miter"/>
<polygon points="93.5,1089.1 98.3,1097 88.7,1097" fill="#377eb8" stroke="#2c6493" stroke-width="0.7" stroke-linejoin="miter"/>
<polygon points="97.3,1078.7 102.1,1086.6 92.5,1086.6" fill="#377eb8" stroke="#2c6493" stroke-width="0.7" stroke-linejoin="miter"/>
<polygon points="97.3,1059.4 102.1,1067.3 92.5,1067.3" fill="#377eb8" stroke="#2c6493" stroke-width="0.7" stroke-linejoin="miter"/>
<polygon points="109.2,1017.1 114,1025 104.4,1025" fill="#377eb8" stroke="#2c6493" stroke-width="0.7" stroke-linejoin="miter"/>
<polygon points="135,976.8 139.8,984.7 130.2,984.7" fill="#377eb8" stroke="#2c6493" stroke-width="0.7" stroke-linejoin="miter"/>
<rect x="155.2" y="1091.4" width="9.6" height="9.6" fill="#984ea3" stroke="#793e82" stroke-width="0.7" stroke-linejoin="miter"/>
<rect x="178.7" y="1082.1" width="9.6" height="9.6" fill="#984ea3" stroke="#793e82" stroke-width="0.7" stroke-linejoin="miter"/>
<rect x="204" y="1066.7" width="9.6" height="9.6" fill="#984ea3" stroke="#793e82" stroke-width="0.7" stroke-linejoin="miter"/>
<rect x="233.3" y="1053.7" width="9.6" height="9.6" fill="#984ea3" stroke="#793e82" stroke-width="0.7" stroke-linejoin="miter"/>
<rect x="277.7" y="1027.7" width="9.6" height="9.6" fill="#984ea3" stroke="#793e82" stroke-width="0.7" stroke-linejoin="miter"/>
<circle cx="81.5" cy="1123.5" r="5.05" fill="#4daf4a" stroke="#3d8c3b" stroke-width="0.7" stroke-linejoin="miter"/>
<circle cx="90.4" cy="1118.5" r="5.05" fill="#4daf4a" stroke="#3d8c3b" stroke-width="0.7" stroke-linejoin="miter"/>
<circle cx="109.2" cy="1113.1" r="5.05" fill="#4daf4a" stroke="#3d8c3b" stroke-width="0.7" stroke-linejoin="miter"/>
<circle cx="133.1" cy="1103.8" r="5.05" fill="#4daf4a" stroke="#3d8c3b" stroke-width="0.7" stroke-linejoin="miter"/>
<circle cx="208.8" cy="1079.6" r="5.05" fill="#4daf4a" stroke="#3d8c3b" stroke-width="0.7" stroke-linejoin="miter"/>
<circle cx="240.8" cy="1046.5" r="5.05" fill="#4daf4a" stroke="#3d8c3b" stroke-width="0.7" stroke-linejoin="miter"/>
<circle cx="356.5" cy="952.5" r="5.05" fill="#4daf4a" stroke="#3d8c3b" stroke-width="0.7" stroke-linejoin="miter"/>
<polygon points="208.8,1098.3 213.6,1103.1 208.8,1107.9 204,1103.1" fill="#e41a1c" stroke="#b61416" stroke-width="0.7" stroke-linejoin="miter"/>
<polygon points="326.5,1039.2 331.3,1044 326.5,1048.8 321.7,1044" fill="#e41a1c" stroke="#b61416" stroke-width="0.7" stroke-linejoin="miter"/>
<polygon points="356.5,1027.7 361.3,1032.5 356.5,1037.3 351.7,1032.5" fill="#e41a1c" stroke="#b61416" stroke-width="0.7" stroke-linejoin="miter"/>
<polygon points="356.5,1019.2 361.3,1024 356.5,1028.8 351.7,1024" fill="#e41a1c" stroke="#b61416" stroke-width="0.7" stroke-linejoin="miter"/>
<polygon points="504.5,942.7 509.3,947.5 504.5,952.3 499.7,947.5" fill="#e41a1c" stroke="#b61416" stroke-width="0.7" stroke-linejoin="miter"/>
<path d="M76.1 875.2 L94.5 875.2" fill="none" stroke="#4f81aa" stroke-width="1.25" stroke-dasharray="1.3 1.8" stroke-opacity="0.4"/>
<polygon points="85.3,870.8 90.1,878.7 80.5,878.7" fill="#377eb8" stroke="#2c6493" stroke-width="0.7" stroke-linejoin="miter"/>
<text transform="translate(502.7 879.6) scale(1.07 1)" font-size="10.4" text-anchor="end" xml:space="preserve" stroke="#000" stroke-width="0.25"><tspan>[Sr(</tspan><tspan dy="-4.37" font-size="8.32">i</tspan><tspan dy="4.37">Pr</tspan><tspan dy="3.12" font-size="8.32">3</tspan><tspan dy="-3.12">Cp)</tspan><tspan dy="3.12" font-size="8.32">2</tspan><tspan dy="-3.12"> DME + O</tspan><tspan dy="3.12" font-size="8.32">2</tspan><tspan dy="-3.12">−pl.] + [Ti(Me</tspan><tspan dy="3.12" font-size="8.32">5</tspan><tspan dy="-3.12">Cp)(OMe)</tspan><tspan dy="3.12" font-size="8.32">3</tspan><tspan dy="-3.12"> + O</tspan><tspan dy="3.12" font-size="8.32">2</tspan><tspan dy="-3.12">−pl.], 250°</tspan><tspan dx="0.6">C, Si [Longo2011]</tspan></text>
<path d="M76.1 891.4 L94.5 891.4" fill="none" stroke="#935f9b" stroke-width="1.25" stroke-dasharray="1.3 1.8" stroke-opacity="0.4"/>
<rect x="80.5" y="886.6" width="9.6" height="9.6" fill="#984ea3" stroke="#793e82" stroke-width="0.7" stroke-linejoin="miter"/>
<text transform="translate(502.7 895.8) scale(1.07 1)" font-size="10.4" text-anchor="end" xml:space="preserve" stroke="#000" stroke-width="0.25"><tspan>[Sr(</tspan><tspan dy="-4.37" font-size="8.32">i</tspan><tspan dy="4.37">Pr</tspan><tspan dy="3.12" font-size="8.32">3</tspan><tspan dy="-3.12">Cp)</tspan><tspan dy="3.12" font-size="8.32">2</tspan><tspan dy="-3.12"> + H</tspan><tspan dy="3.12" font-size="8.32">2</tspan><tspan dy="-3.12">O] + [TTIP + H</tspan><tspan dy="3.12" font-size="8.32">2</tspan><tspan dy="-3.12">O], 325°</tspan><tspan dx="0.6">C, glass [Vehkamaki2001]</tspan></text>
<path d="M76.1 907.1 L94.5 907.1" fill="none" stroke="#5fa35d" stroke-width="1.25" stroke-dasharray="1.3 1.8" stroke-opacity="0.4"/>
<circle cx="85.3" cy="907.1" r="5.05" fill="#4daf4a" stroke="#3d8c3b" stroke-width="0.7" stroke-linejoin="miter"/>
<text transform="translate(502.7 911.5) scale(1.07 1)" font-size="10.4" text-anchor="end" xml:space="preserve" stroke="#000" stroke-width="0.25"><tspan>[Sr(</tspan><tspan dy="-4.37" font-size="8.32">i</tspan><tspan dy="4.37">Pr</tspan><tspan dy="3.12" font-size="8.32">3</tspan><tspan dy="-3.12">Cp)</tspan><tspan dy="3.12" font-size="8.32">2</tspan><tspan dy="-3.12"> + H</tspan><tspan dy="3.12" font-size="8.32">2</tspan><tspan dy="-3.12">O] + [Ti(Me</tspan><tspan dy="3.12" font-size="8.32">5</tspan><tspan dy="-3.12">Cp)(OMe)</tspan><tspan dy="3.12" font-size="8.32">3</tspan><tspan dy="-3.12"> + O</tspan><tspan dy="3.12" font-size="8.32">3</tspan><tspan dy="-3.12">], 370°</tspan><tspan dx="0.6">C, Pt [Lee2013]</tspan></text>
<path d="M76.1 922.5 L94.5 922.5" fill="none" stroke="#c83b3c" stroke-width="1.25" stroke-dasharray="1.3 1.8" stroke-opacity="0.4"/>
<polygon points="85.3,917.7 90.1,922.5 85.3,927.3 80.5,922.5" fill="#e41a1c" stroke="#b61416" stroke-width="0.7" stroke-linejoin="miter"/>
<text transform="translate(502.7 926.9) scale(1.07 1)" font-size="10.4" text-anchor="end" xml:space="preserve" stroke="#000" stroke-width="0.25"><tspan>[Sr(thd</tspan><tspan dy="3.12" font-size="8.32">2</tspan><tspan dy="-3.12">) + O</tspan><tspan dy="3.12" font-size="8.32">3</tspan><tspan dy="-3.12">] + [TTIP + H</tspan><tspan dy="3.12" font-size="8.32">2</tspan><tspan dy="-3.12">O], 325°</tspan><tspan dx="0.6">C, Si [Kosola2003]</tspan></text>
</svg>
</body>
</html>
